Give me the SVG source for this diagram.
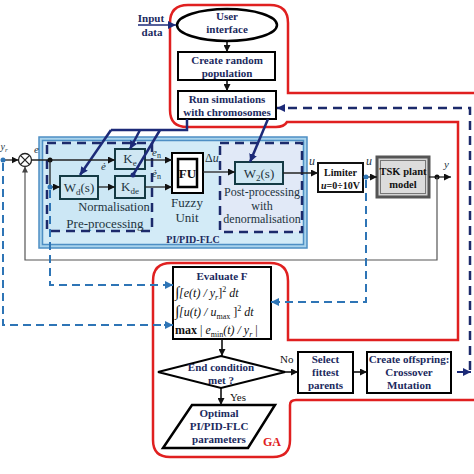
<svg xmlns="http://www.w3.org/2000/svg" width="474" height="474" viewBox="0 0 474 474">
<defs>
<style>
.t{font-family:"Liberation Serif","Times New Roman",serif;}
.nb{font-family:"Liberation Serif","Times New Roman",serif;font-weight:bold;fill:#1b2a5e;font-size:11px;text-anchor:middle;}
.ct{font-family:"Liberation Serif","Times New Roman",serif;fill:#1e3440;text-anchor:middle;}
.fb{fill:#fff;stroke:#000;stroke-width:2;}
.cb{fill:#cfe7f3;stroke:#143a44;stroke-width:2;}
.sig{fill:none;stroke:#222;stroke-width:1.3;}
.nav{fill:none;stroke:#1c2a78;stroke-width:2.5;}
.bd{fill:none;stroke:#2e75b6;stroke-width:2;stroke-dasharray:8 5;}
.nd{fill:none;stroke:#1c2a6b;stroke-width:2.5;stroke-dasharray:9 6;}
.it{font-style:italic;}
</style>
<marker id="ak" viewBox="0 0 10 10" refX="10" refY="5" markerWidth="7" markerHeight="7" markerUnits="userSpaceOnUse" orient="auto"><path d="M0,0 L10,5 L0,10 z" fill="#111"/></marker>
<marker id="an" viewBox="0 0 10 10" refX="10" refY="5" markerWidth="8" markerHeight="8" markerUnits="userSpaceOnUse" orient="auto"><path d="M0,0 L10,5 L0,10 z" fill="#1c2a78"/></marker>
<marker id="ab" viewBox="0 0 10 10" refX="10" refY="5" markerWidth="8" markerHeight="8" markerUnits="userSpaceOnUse" orient="auto"><path d="M0,0 L10,5 L0,10 z" fill="#2e75b6"/></marker>
<marker id="ag" viewBox="0 0 10 10" refX="10" refY="5" markerWidth="6" markerHeight="6" markerUnits="userSpaceOnUse" orient="auto"><path d="M0,0 L10,5 L0,10 z" fill="#444"/></marker>
</defs>
<rect width="474" height="474" fill="#fff"/>

<!-- GA red boundary -->
<path id="ga-boundary" d="M474 93 H288 V23 Q288 5 270 5 H188 Q170 5 170 23 V110 Q170 127 187 127 H276 Q284 127 287 122 H458 V340 H288 V281 Q288 263 270 263 H171 Q153 263 153 281 V440 Q153 457 170 457 H273 Q290 457 290 440 V405 Q290 400 296 400 H474" fill="none" stroke="#e02020" stroke-width="2.5"/>

<!-- controller container -->
<g id="pi-pid-flc">
<rect x="39" y="137" width="268" height="111" fill="#a9d3ec" stroke="#4e8fc4" stroke-width="1.5"/>
<rect x="42.5" y="140.5" width="261" height="104" fill="#d3ebf7" stroke="#4e8fc4" stroke-width="1.5"/>
<text class="t" x="193" y="243" font-size="10" font-weight="bold" fill="#1b2a5e" text-anchor="middle">PI/PID-FLC</text>
</g>
<g id="pre-processing">
<rect x="47" y="143" width="105" height="88" fill="#cce7f5" stroke="#1c2a6b" stroke-width="2.5" stroke-dasharray="9 6"/>
<text class="ct" x="114" y="211" font-size="12.5">Normalisation</text>
<text class="ct" x="105" y="228" font-size="13">Pre-processing</text>
</g>
<g id="post-processing">
<rect x="220" y="143" width="82" height="89" fill="#e1e9f7" stroke="#1c2a6b" stroke-width="2.5" stroke-dasharray="9 6"/>
<text class="ct" x="262" y="196" font-size="12">Post-processing</text>
<text class="ct" x="262" y="210" font-size="12">with</text>
<text class="ct" x="262" y="223" font-size="12">denormalisation</text>
</g>

<!-- GA flowchart nodes -->
<g id="user-interface">
<ellipse cx="227" cy="25" rx="50" ry="16" fill="#fff" stroke="#000" stroke-width="2.5"/>
<text class="nb" x="227" y="20">User</text>
<text class="nb" x="227" y="33">interface</text>
</g>
<g id="input-data">
<text class="nb" x="151" y="22">Input</text>
<text class="nb" x="152" y="36">data</text>
</g>
<g id="create-random">
<rect class="fb" x="178" y="52" width="97" height="28"/>
<text class="nb" x="227" y="64">Create random</text>
<text class="nb" x="227" y="77">population</text>
</g>
<g id="run-simulations">
<rect class="fb" x="178" y="91" width="98" height="28"/>
<text class="nb" x="227" y="103">Run simulations</text>
<text class="nb" x="227" y="116">with chromosomes</text>
</g>
<g id="evaluate-f">
<rect class="fb" x="173" y="267" width="98" height="72"/>
<text class="nb" x="222" y="280">Evaluate F</text>
<text class="t" x="175" y="297" font-size="12" fill="#111"><tspan font-size="15">∫</tspan><tspan class="it">[e(t) / y</tspan><tspan class="it" font-size="8" dy="3">r</tspan><tspan dy="-3">]</tspan><tspan font-size="8" dy="-5">2</tspan><tspan class="it" dy="5"> dt</tspan></text>
<text class="t" x="175" y="316" font-size="12" fill="#111"><tspan font-size="15">∫</tspan><tspan class="it">[u(t) / u</tspan><tspan font-size="8" dy="3">max</tspan><tspan dy="-3"> ]</tspan><tspan font-size="8" dy="-5">2</tspan><tspan class="it" dy="5"> dt</tspan></text>
<text class="t" x="175" y="334" font-size="12" fill="#111"><tspan font-weight="bold">max</tspan><tspan> | </tspan><tspan class="it">e</tspan><tspan font-size="8" dy="3">min</tspan><tspan class="it" dy="-3">(t) / y</tspan><tspan class="it" font-size="8" dy="3">r</tspan><tspan dy="-3"> |</tspan></text>
</g>
<g id="end-condition">
<polygon points="221,356 285,372 221,388 158,372" fill="#fff" stroke="#000" stroke-width="2"/>
<text class="nb" x="221" y="371">End condition</text>
<text class="nb" x="221" y="384">met ?</text>
</g>
<g id="select-parents">
<rect class="fb" x="298" y="352" width="55" height="41"/>
<text class="nb" x="325.5" y="363">Select</text>
<text class="nb" x="325.5" y="376">fittest</text>
<text class="nb" x="325.5" y="389">parents</text>
</g>
<g id="create-offspring">
<rect class="fb" x="367" y="352" width="84" height="41"/>
<text class="nb" x="409" y="363">Create offspring:</text>
<text class="nb" x="409" y="376">Crossover</text>
<text class="nb" x="409" y="389">Mutation</text>
</g>
<g id="optimal-parameters">
<polygon points="192,405 275,405 248,448 163,448" fill="#fff" stroke="#000" stroke-width="2.5"/>
<text class="nb" x="219" y="417">Optimal</text>
<text class="nb" x="219" y="430">PI/PID-FLC</text>
<text class="nb" x="219" y="443">parameters</text>
</g>
<text id="ga-label" class="t" x="263" y="446" font-size="12" font-weight="bold" fill="#e02020">GA</text>

<!-- control loop nodes -->
<g id="sum-junction">
<circle cx="25" cy="160" r="6.5" fill="#fff" stroke="#222" stroke-width="1.3"/>
<path d="M20.4 155.4 L29.6 164.6 M29.6 155.4 L20.4 164.6" stroke="#222" stroke-width="1.3"/>
</g>
<g id="wd">
<rect class="cb" x="60" y="176" width="38" height="23"/>
<text class="ct" x="79" y="192" font-size="13">W<tspan font-size="9" dy="3">d</tspan><tspan dy="-3">(s)</tspan></text>
</g>
<g id="ke">
<rect class="cb" x="115" y="149" width="30" height="20"/>
<text class="ct" x="130" y="163" font-size="13">K<tspan font-size="9" dy="3">e</tspan></text>
</g>
<g id="kde">
<rect class="cb" x="115" y="176" width="30" height="22"/>
<text class="ct" x="130" y="191" font-size="13">K<tspan font-size="9" dy="3">de</tspan></text>
</g>
<g id="fu">
<rect x="172" y="153" width="31" height="40" fill="#fff" stroke="#000" stroke-width="2"/>
<rect x="178" y="159" width="19" height="28" fill="#fff" stroke="#000" stroke-width="2.5"/>
<text class="t" x="187.5" y="178" font-size="13" font-weight="bold" text-anchor="middle" fill="#111">FU</text>
<text class="ct" x="187" y="207" font-size="13">Fuzzy</text>
<text class="ct" x="187" y="222" font-size="13">Unit</text>
</g>
<g id="w2">
<rect class="cb" x="235" y="162" width="48" height="22" fill="#e1e9f7"/>
<text class="ct" x="259" y="178" font-size="13">W<tspan font-size="9" dy="3">2</tspan><tspan dy="-3">(s)</tspan></text>
</g>
<g id="limiter">
<rect x="318" y="163" width="45" height="29" fill="#fff" stroke="#111" stroke-width="2"/>
<text class="t" x="340.5" y="176" font-size="10" font-weight="bold" text-anchor="middle" fill="#111">Limiter</text>
<text class="t" x="340.5" y="189" font-size="10" font-weight="bold" text-anchor="middle" fill="#111"><tspan class="it">u</tspan>=0÷10V</text>
</g>
<g id="tsk-plant">
<rect x="377" y="157" width="52" height="40" fill="#d4d4d4" stroke="#555" stroke-width="3"/>
<rect x="380.5" y="160.5" width="45" height="33" fill="#dcdcdc" stroke="#777" stroke-width="1"/>
<text class="t" x="403" y="175" font-size="10.5" font-weight="bold" text-anchor="middle" fill="#111">TSK plant</text>
<text class="t" x="403" y="188" font-size="10.5" font-weight="bold" text-anchor="middle" fill="#111">model</text>
</g>

<!-- connectors -->
<g id="connectors">
<line x1="138" y1="25" x2="176" y2="25" stroke="#1c2a78" stroke-width="1.5" marker-end="url(#an)"/>
<line x1="227" y1="41" x2="227" y2="52" stroke="#000" stroke-width="1.5" marker-end="url(#ak)"/>
<line x1="227" y1="80" x2="227" y2="91" stroke="#000" stroke-width="1.5" marker-end="url(#ak)"/>
<line x1="222" y1="339" x2="222" y2="356" stroke="#000" stroke-width="1.5" marker-end="url(#ak)"/>
<line x1="285" y1="372" x2="298" y2="372" stroke="#000" stroke-width="1.5" marker-end="url(#ak)"/>
<line x1="353" y1="372" x2="367" y2="372" stroke="#000" stroke-width="1.5" marker-end="url(#ak)"/>
<line x1="221" y1="388" x2="221" y2="405" stroke="#000" stroke-width="1.5" marker-end="url(#ak)"/>
<text class="t" x="280" y="363" font-size="11" fill="#111">No</text>
<text class="t" x="230" y="401" font-size="11" fill="#111">Yes</text>
<line x1="457" y1="372" x2="471" y2="372" stroke="#1c2a78" stroke-width="2" marker-end="url(#an)"/>
<path class="nd" d="M470 370 V108 H282"/>
<line x1="284" y1="108" x2="277" y2="108" stroke="#1c2a6b" stroke-width="2.5" marker-end="url(#an)"/>
<path class="nav" d="M187 119 V130 H111"/>
<line x1="111" y1="130" x2="80" y2="175" stroke="#1c2a78" stroke-width="2.5" marker-end="url(#an)"/>
<line x1="140" y1="130" x2="130" y2="149" stroke="#1c2a78" stroke-width="2.5" marker-end="url(#an)"/>
<line x1="160" y1="130" x2="133" y2="175" stroke="#1c2a78" stroke-width="2.5"/>
<circle cx="133" cy="175" r="2.5" fill="#1c2a78"/>
<line x1="268" y1="119" x2="250" y2="162" stroke="#1c2a78" stroke-width="2.5" marker-end="url(#an)"/>
<line class="sig" x1="3" y1="160" x2="18.5" y2="160" marker-end="url(#ak)"/>
<circle cx="3" cy="160" r="2.5" fill="#2e75b6"/>
<text class="t it" x="0.5" y="150" font-size="10" fill="#1e3440">y<tspan font-size="7" dy="2">r</tspan></text>
<text class="t it" x="34" y="153" font-size="11" fill="#1e3440">e</text>
<line class="sig" x1="31.5" y1="160" x2="115" y2="160" marker-end="url(#ak)"/>
<circle cx="50" cy="160" r="2.5" fill="#111"/>
<path class="sig" d="M50 160 V187 H60" marker-end="url(#ak)"/>
<circle cx="50" cy="187" r="2.5" fill="#2e75b6"/>
<line class="sig" x1="98" y1="187" x2="115" y2="187" marker-end="url(#ak)"/>
<text class="t it" x="101" y="170" font-size="11" fill="#1e3440">ė</text>
<line class="sig" x1="145" y1="160" x2="172" y2="160" marker-end="url(#ak)"/>
<line class="sig" x1="145" y1="187" x2="172" y2="187" marker-end="url(#ak)"/>
<text class="t it" x="152" y="156" font-size="11" fill="#1e3440">e<tspan font-size="8" dy="2" font-style="normal">n</tspan></text>
<text class="t it" x="152" y="177" font-size="11" fill="#1e3440">ė<tspan font-size="8" dy="2" font-style="normal">n</tspan></text>
<line class="sig" x1="203" y1="172" x2="235" y2="172" marker-end="url(#ak)"/>
<text class="t" x="205" y="162" font-size="12" fill="#1e3440">Δ<tspan class="it">u</tspan></text>
<line class="sig" x1="283" y1="173" x2="318" y2="173" marker-end="url(#ak)"/>
<text class="t it" x="309" y="165" font-size="12" fill="#1e3440">u</text>
<line class="sig" x1="363" y1="177" x2="377" y2="177" marker-end="url(#ak)"/>
<text class="t it" x="366" y="165" font-size="12" fill="#1e3440">u</text>
<circle cx="366" cy="177" r="2.5" fill="#2e75b6"/>
<line class="sig" x1="429" y1="177" x2="451" y2="177" marker-end="url(#ak)"/>
<circle cx="437" cy="177" r="2.5" fill="#111"/>
<text class="t it" x="444" y="168" font-size="11" fill="#1e3440">y</text>
<path d="M437 177 V260 H25 V166.5" fill="none" stroke="#555" stroke-width="1.2" marker-end="url(#ag)"/>
<path class="bd" d="M3 163 V325 H166"/>
<line x1="164" y1="325" x2="173" y2="325" stroke="#2e75b6" stroke-width="2" marker-end="url(#ab)"/>
<path class="bd" d="M50 190 V285 H166"/>
<line x1="164" y1="285" x2="173" y2="285" stroke="#2e75b6" stroke-width="2" marker-end="url(#ab)"/>
<path class="bd" d="M366 180 V302 H278"/>
<line x1="280" y1="302" x2="271" y2="302" stroke="#2e75b6" stroke-width="2" marker-end="url(#ab)"/>
</g>
</svg>
